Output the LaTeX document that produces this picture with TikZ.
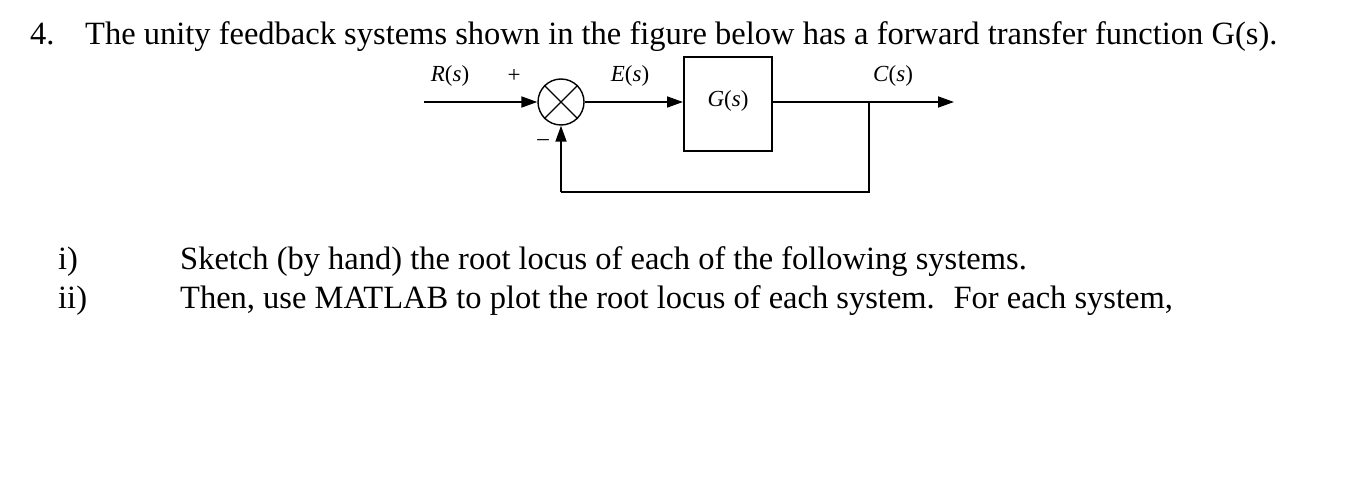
\documentclass[tikz,border=0pt]{standalone}
\usepackage{fontspec}
\setmainfont{Liberation Serif}
\usetikzlibrary{arrows.meta}
\newcommand{\vs}[1]{\textit{#1}(\textit{s})}
\begin{document}
\begin{tikzpicture}[x=1pt,y=-1pt,
  txt/.style={font=\fontsize{32.5}{36}\selectfont, anchor=base west, inner sep=0},
  lab/.style={font=\fontsize{23}{26}\selectfont, inner sep=0},
  sig/.style={line width=1.8pt},
  arr/.style={sig,-{Triangle[length=16pt,width=11pt]}}]
\useasboundingbox (0,0) rectangle (1352,484);
\node[txt] (title) at (30,45) {4.};
\node[txt] (title2) at (85,45) {The unity feedback systems shown in the figure below has a forward transfer function G(s).};
\node[txt] (i) at (58,269) {i)};
\node[txt] (ii) at (58,308) {ii)};
\node[txt] (l1) at (180,269) {Sketch (by hand) the root locus of each of the following systems.};
\node[txt] (l2) at (180,308) {Then, use MATLAB to plot the root locus of each system.\hspace{8pt} For each system,};
\node[draw, circle, minimum size=46pt, inner sep=0, line width=1.4pt] (sum) at (561,102) {};
\draw[line width=1.4pt] (sum.north west) -- (sum.south east) (sum.north east) -- (sum.south west);
\node[draw, line width=2pt, minimum width=88pt, minimum height=94pt, inner sep=0] (G) at (728,104) {};
\node[lab] (Gl) at (728,101) {\vs{G}};
\coordinate (in) at (424,102);
\coordinate (out) at (954,102);
\coordinate (br) at (869,102);
\coordinate (fb1) at (869,192);
\coordinate (fb2) at (561,192);
\draw[arr] (in) -- (sum.west);
\draw[arr] (sum.east) -- (G.west |- sum.east);
\draw[arr] (G.east |- sum.east) -- (out);
\draw[sig] (br) -- (fb1) -- (fb2);
\draw[arr] (fb2) -- (sum.south);
\node[lab] (R) at (450,76) {\vs{R}};
\node[lab] (plus) at (514,76) {+};
\node[lab] (E) at (630,76) {\vs{E}};
\node[lab] (C) at (893,76) {\vs{C}};
\node[lab] (minus) at (543,143) {\textendash};
\end{tikzpicture}
\end{document}
